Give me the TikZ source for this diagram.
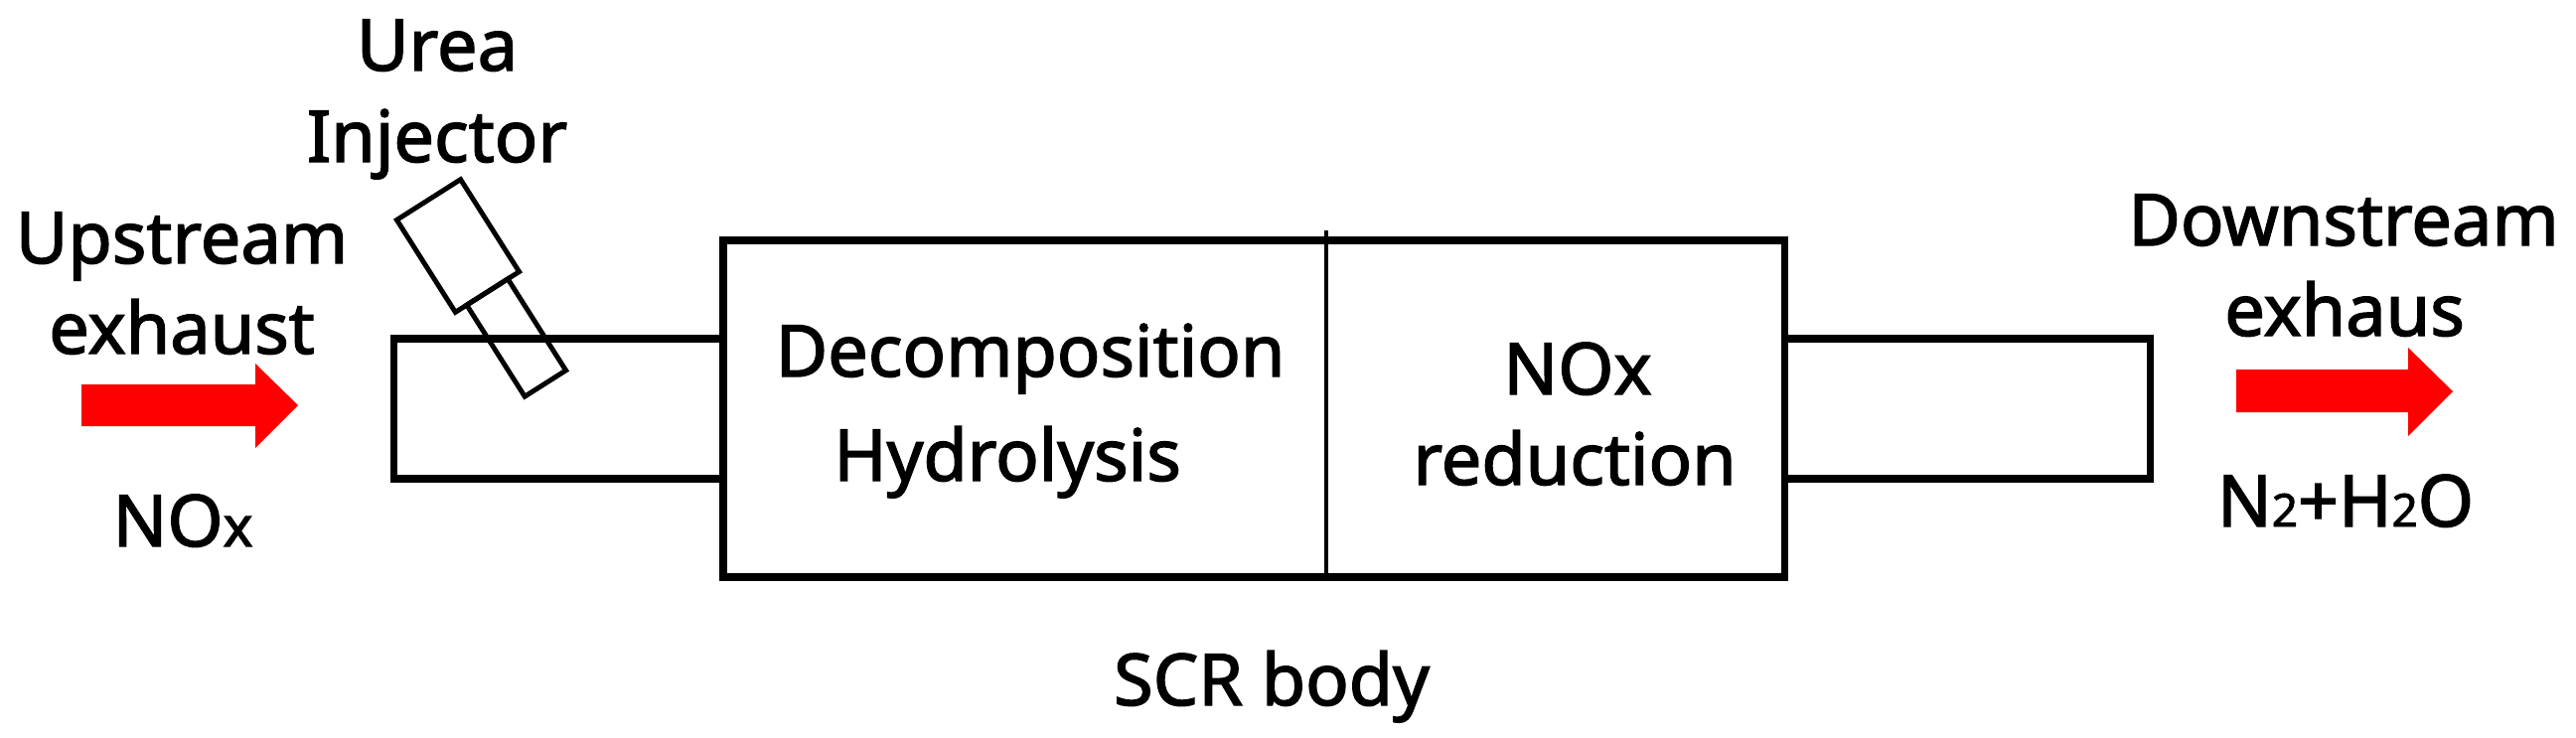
\documentclass[tikz,border=0pt]{standalone}
\usepackage{fontspec}
\setmainfont{Noto Sans}[FakeBold=2]
\begin{document}
\begin{tikzpicture}[x=0.01cm,y=-0.01cm,
  thick line/.style={line width=2pt},
  injbox/.style={draw,line width=1.4pt,rotate=-57.6,inner sep=0pt,outer sep=0pt},
  lbl/.style={anchor=base,inner sep=0pt,font=\fontsize{20.5}{24}\selectfont},
  flow/.style={fill=red,draw=none}]
\useasboundingbox (0,0) rectangle (2593,742);
% main SCR body
\draw[thick line] (728,242) rectangle (1796,581);
\coordinate (divtop) at (1335,232);
\coordinate (divbot) at (1335,581);
\draw[line width=0.9pt] (divtop) -- (divbot);
% pipes
\draw[thick line] (728,341) -- (396.5,341) -- (396.5,482) -- (728,482);
\draw[thick line] (1796,341) -- (2164,341) -- (2164,482) -- (1796,482);
% injector
\node[injbox,minimum width=1.10cm,minimum height=0.76cm] (inj) at (461,247.5) {};
\node[injbox,minimum width=1.09cm,minimum height=0.49cm,anchor=west] (noz) at (inj.east) {};
% red flow arrows
\fill[flow] (82,387) -- (257,387) -- (257,366) -- (300,408) -- (257,451) -- (257,429) -- (82,429) -- cycle;
\fill[flow] (2251,372) -- (2424,372) -- (2424,350) -- (2469,394) -- (2424,439) -- (2424,415) -- (2251,415) -- cycle;
% labels
\node[lbl] (urea) at (440,71) {Urea};
\node[lbl] (injl) at (440,163) {Injector};
\node[lbl] (up1) at (183,265) {Upstream};
\node[lbl] (up2) at (183,356) {exhaust};
\node[lbl] (noxin) at (184,550) {NO{\fontsize{16}{16}\selectfont x}};
\node[lbl] (dec) at (1037,379) {Decomposition};
\node[lbl] (hyd) at (1014,484) {Hydrolysis};
\node[lbl] (nox) at (1588,397) {NOx};
\node[lbl] (red) at (1585,488) {reduction};
\node[lbl] (scr) at (1280,710) {SCR body};
\node[lbl] (dn1) at (2359,247) {Downstream};
\node[lbl] (dn2) at (2360,338) {exhaus};
\node[lbl] (out) at (2361,530) {N{\fontsize{13}{13}\selectfont 2}+H{\fontsize{13}{13}\selectfont 2}O};
\end{tikzpicture}
\end{document}
